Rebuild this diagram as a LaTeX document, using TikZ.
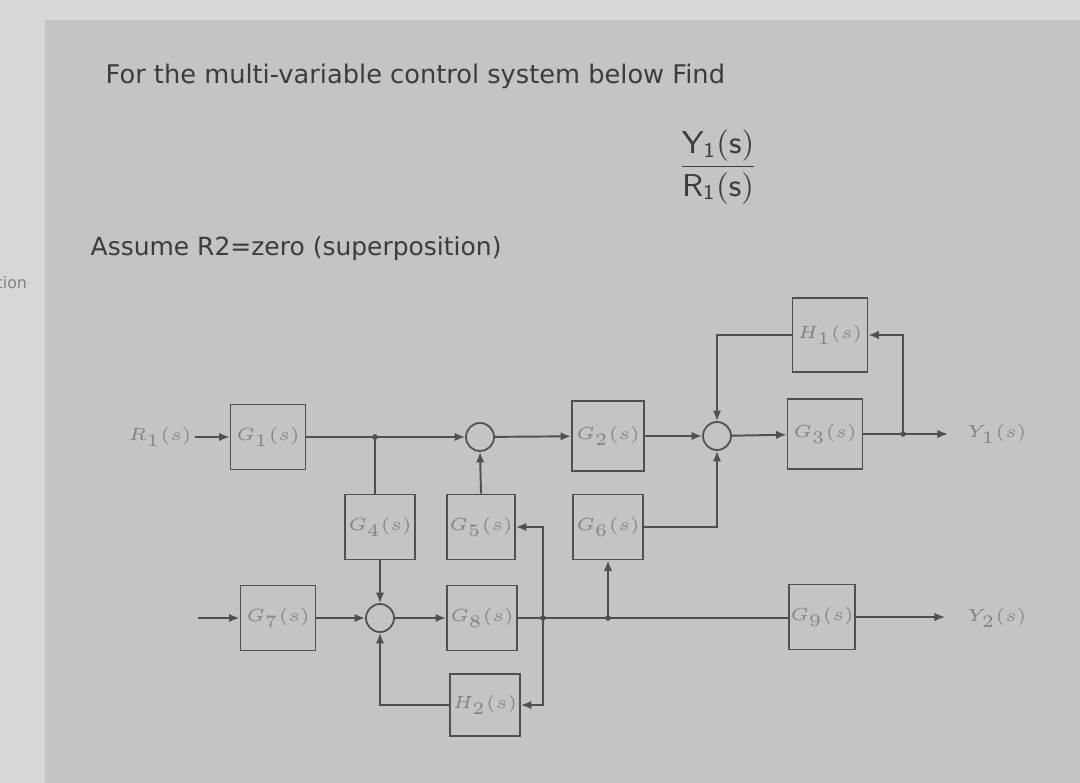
\documentclass[tikz,border=0pt]{standalone}
\usepackage{fontspec}
\setmainfont{DejaVu Sans}
\usetikzlibrary{arrows.meta}
\definecolor{bg}{RGB}{196,196,196}
\definecolor{bgl}{RGB}{215,215,215}
\definecolor{ln}{RGB}{80,80,80}
\definecolor{tx}{RGB}{60,60,60}
\definecolor{ft}{RGB}{130,130,130}
\begin{document}
\begin{tikzpicture}[x=0.01cm,y=-0.01cm,
  blk/.style={draw=ln,line width=0.5pt,minimum width=0.7cm,minimum height=0.65cm,inner sep=0pt,font=\fontsize{3}{3.5}\selectfont\itshape,text=ft},
  sumn/.style={draw=ln,line width=0.5pt,circle,minimum size=0.28cm,inner sep=0pt},
  wire/.style={draw=ln,line width=0.55pt},
  arr/.style={wire,-{Latex[length=3pt,width=2.4pt]}},
  sig/.style={font=\fontsize{3}{3.5}\selectfont\itshape,text=ft}]
\fill[bgl] (0,0) rectangle (1080,783);
\fill[bg] (45,20) rectangle (1080,783);
\useasboundingbox (0,0) rectangle (1080,783);
% texts
\node[anchor=west,text=tx,font=\fontsize{7.3}{8}\selectfont,inner sep=0pt] (title) at (105,76) {For the multi-variable control system below Find};
\node[text=tx,font=\fontsize{9}{10}\selectfont] (frac) at (718,167) {$\displaystyle\frac{\mathsf{Y_1(s)}}{\mathsf{R_1(s)}}$};
\node[anchor=west,text=tx,font=\fontsize{7.1}{8}\selectfont,inner sep=0pt] (assume) at (90,249) {Assume R2=zero (superposition)};
\node[anchor=west,text=ft,font=\fontsize{4.5}{5}\selectfont,inner sep=0pt] (tion) at (-4,283) {tion};
% blocks
\node[blk,minimum width=0.75cm] (G1) at (268,437) {$G_1(s)$};
\node[sumn] (S1) at (480,437) {};
\node[blk,minimum width=0.72cm,minimum height=0.7cm] (G2) at (608,436) {$G_2(s)$};
\node[sumn] (S2) at (717,436) {};
\node[blk,minimum width=0.75cm,minimum height=0.7cm] (G3) at (825,434) {$G_3(s)$};
\node[blk,minimum width=0.75cm,minimum height=0.74cm] (H1) at (830,335) {$H_1(s)$};
\node[blk] (G4) at (380,527) {$G_4(s)$};
\node[blk,minimum width=0.68cm] (G5) at (481,527) {$G_5(s)$};
\node[blk] (G6) at (608,527) {$G_6(s)$};
\node[blk,minimum width=0.75cm] (G7) at (278,618) {$G_7(s)$};
\node[sumn] (S3) at (380,618) {};
\node[blk] (G8) at (482,618) {$G_8(s)$};
\node[blk,minimum width=0.66cm] (G9) at (822,617) {$G_9(s)$};
\node[blk,minimum height=0.62cm] (H2) at (485,705) {$H_2(s)$};
% signal nodes
\node[sig] (R1) at (160,437) {$R_1(s)$};
\coordinate (R1a) at (195,437);
\coordinate (R2a) at (198,618);
\coordinate (B1) at (375,437);
\coordinate (B2) at (903,434);
\coordinate (B3) at (543,618);
\coordinate (B4) at (608,618);
\coordinate (Y1e) at (948,434);
\coordinate (Y2e) at (945,617);
\node[sig,anchor=west] (Y1) at (955,434) {$Y_1(s)$};
\node[sig,anchor=west] (Y2) at (955,618) {$Y_2(s)$};
% top path
\draw[arr] (R1a) -- (G1);
\draw[arr] (G1) -- (S1);
\draw[arr] (S1) -- (G2);
\draw[arr] (G2) -- (S2);
\draw[arr] (S2) -- (G3);
\draw[arr] (G3.east |- B2) -- (Y1e);
\draw[arr] (B2) |- (H1.east);
\draw[arr] (H1.west) -| (S2.north);
\draw[wire] (B1) -- (G4.north -| B1);
\draw[arr] (G4.south) -- (S3.north);
\draw[arr] (G5.north) -- (S1.south);
\draw[arr] (G6.east) -| (S2.south);
% bottom path
\draw[arr] (R2a) -- (G7);
\draw[arr] (G7) -- (S3);
\draw[arr] (S3) -- (G8);
\draw[wire] (G8.east |- B3) -- (G9.west |- B3);
\draw[arr] (G9.east |- Y2e) -- (Y2e);
\draw[arr] (B3) |- (G5.east);
\draw[arr] (B3) |- (H2.east);
\draw[arr] (H2.west) -| (S3.south);
\draw[arr] (B4) -- (G6.south);
\fill[ln] (B1) circle (0.8pt) (B2) circle (0.8pt) (B3) circle (0.8pt) (B4) circle (0.8pt);
\end{tikzpicture}
\end{document}
